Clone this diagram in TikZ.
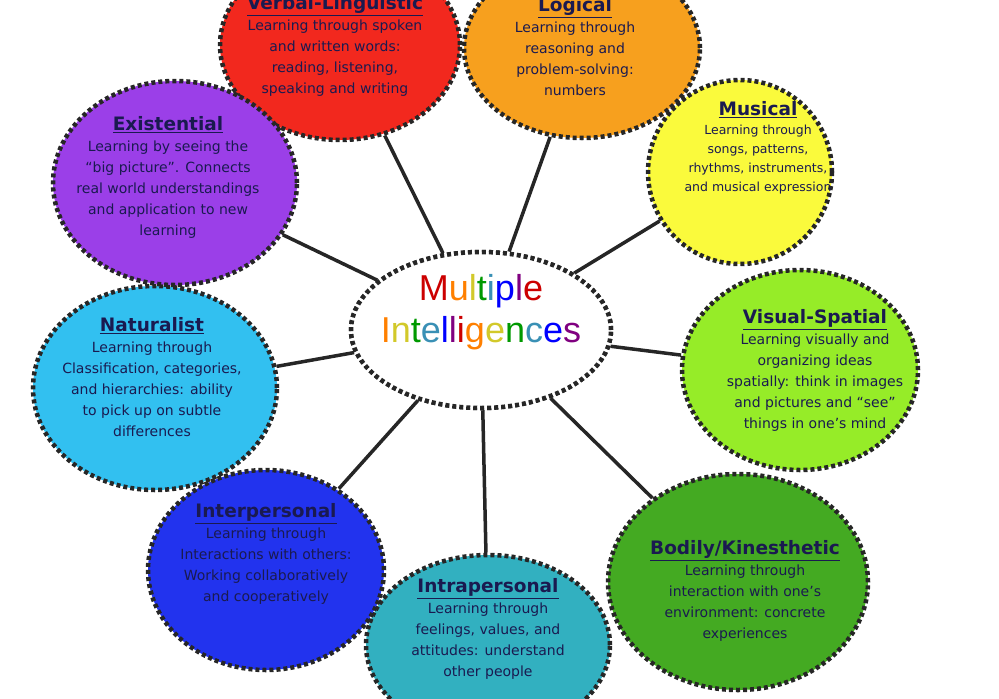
\documentclass[tikz,border=0pt]{standalone}
\usepackage{fontspec}
\setmainfont{DejaVu Sans}
\newfontfamily\titlefont{Liberation Sans}
\usetikzlibrary{shapes.geometric}
\definecolor{ink}{HTML}{1A1A50}
\newcommand\ttlx{\bfseries\fontsize{18.5}{21}\selectfont}
\begin{document}
\begin{tikzpicture}[x=1pt,y=-1pt,
  blob/.style={ellipse,draw=black!85,line width=4.5pt,dash pattern=on 4pt off 3pt,inner sep=0pt},
  link/.style={line width=3.5pt,black!85},
  txt/.style={align=center,text=ink,font=\fontsize{14}{21}\selectfont}]
\useasboundingbox (0,0) rectangle (999,699);
\clip (0,0) rectangle (999,699);
% circles
\node[blob,fill={rgb,255:red,242;green,40;blue,30},minimum width=240pt,minimum height=190pt] (ver) at (340,45) {};
\node[blob,fill={rgb,255:red,247;green,160;blue,30},minimum width=236pt,minimum height=180pt] (log) at (582,48) {};
\node[blob,fill={rgb,255:red,250;green,250;blue,60},minimum width=184pt,minimum height=184pt] (mus) at (740,172) {};
\node[blob,fill={rgb,255:red,150;green,236;blue,40},minimum width=236pt,minimum height=200pt] (vis) at (800,370) {};
\node[blob,fill={rgb,255:red,68;green,170;blue,34},minimum width=260pt,minimum height=216pt] (bod) at (738,582) {};
\node[blob,fill={rgb,255:red,50;green,176;blue,192},minimum width=244pt,minimum height=180pt] (intra) at (488,645) {};
\node[blob,fill={rgb,255:red,34;green,51;blue,238},minimum width=236pt,minimum height=200pt] (inter) at (266,570) {};
\node[blob,fill={rgb,255:red,50;green,192;blue,240},minimum width=244pt,minimum height=204pt] (nat) at (155,388) {};
\node[blob,fill={rgb,255:red,155;green,63;blue,232},minimum width=244pt,minimum height=204pt] (exi) at (175,183) {};
\node[blob,fill=white,minimum width=260pt,minimum height=156pt] (mi) at (481,330) {};
% links
\foreach \t in {ver,log,mus,vis,bod,intra,inter,nat,exi}{\draw[link] (mi) -- (\t);}
\node[blob,fill=white,minimum width=260pt,minimum height=156pt] at (481,330) {};
\node[align=center,font=\titlefont\fontsize{36}{42}\selectfont] (mitxt) at (481,312) {%
\textcolor{red!80!black}{M}\textcolor{orange}{u}\textcolor{yellow!80!black}{l}\textcolor{green!60!black}{t}\textcolor{cyan!70!black}{i}\textcolor{blue}{p}\textcolor{violet}{l}\textcolor{red!80!black}{e}\\
\textcolor{orange}{I}\textcolor{yellow!80!black}{n}\textcolor{green!60!black}{t}\textcolor{cyan!70!black}{e}\textcolor{blue}{l}\textcolor{violet}{l}\textcolor{red!80!black}{i}\textcolor{orange}{g}\textcolor{yellow!80!black}{e}\textcolor{green!60!black}{n}\textcolor{cyan!70!black}{c}\textcolor{blue}{e}\textcolor{violet}{s}};
% texts
\node[txt,anchor=north] (tver) at (335,-8) {{\ttlx\underline{Verbal-Linguistic}}\\Learning through spoken\\and written words:\\reading, listening,\\speaking and writing};
\node[txt,anchor=north] (tlog) at (575,-6) {{\ttlx\underline{Logical}}\\Learning through\\reasoning and\\problem-solving:\\numbers};
\node[txt,anchor=north,font=\fontsize{12.5}{19}\selectfont] (tmus) at (758,98) {{\ttlx\underline{Musical}}\\Learning through\\songs, patterns,\\rhythms, instruments,\\and musical expression};
\node[txt,anchor=north] (tvis) at (815,306) {{\ttlx\underline{Visual-Spatial}}\\Learning visually and\\organizing ideas\\spatially: think in images\\and pictures and “see”\\things in one’s mind};
\node[txt,anchor=north] (tbod) at (745,537) {{\ttlx\underline{Bodily/Kinesthetic}}\\Learning through\\interaction with one’s\\environment: concrete\\experiences};
\node[txt,anchor=north] (tintra) at (488,575) {{\ttlx\underline{Intrapersonal}}\\Learning through\\feelings, values, and\\attitudes:  understand\\other people};
\node[txt,anchor=north] (tinter) at (266,500) {{\ttlx\underline{Interpersonal}}\\Learning through\\Interactions with others:\\Working collaboratively\\and cooperatively};
\node[txt,anchor=north] (tnat) at (152,314) {{\ttlx\underline{Naturalist}}\\Learning through\\Classification, categories,\\and hierarchies:  ability\\to pick up on subtle\\differences};
\node[txt,anchor=north] (texi) at (168,113) {{\ttlx\underline{Existential}}\\Learning by seeing the\\“big picture”.  Connects\\real world understandings\\and application to new\\learning};
\end{tikzpicture}
\end{document}
